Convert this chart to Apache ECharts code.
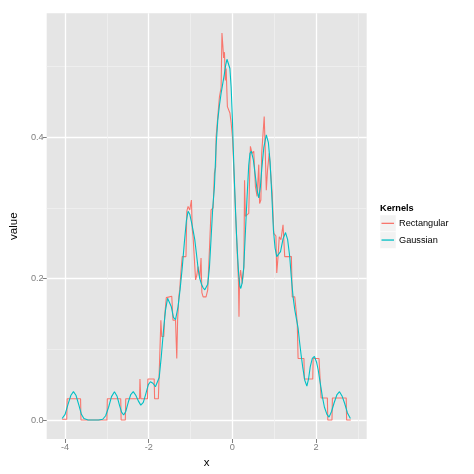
<!DOCTYPE html>
<html><head><meta charset="utf-8">
<script src="https://cdn.jsdelivr.net/npm/echarts@6/dist/echarts.min.js"></script>
<style>html,body{margin:0;padding:0;background:#fff}#c{width:474px;height:474px}</style>
</head><body><div id="c"></div>
<script>
const seriesNames = ['Rectangular', 'Gaussian'];
const xTicks = [-4, -2, 0, 2];
const xMinor = [-3, -1, 1, 3];
const yTicks = [0, 0.2, 0.4];
const yMinor = [0.1, 0.3, 0.5];

const gaussX = [-4.07,-4.00,-3.93,-3.86,-3.80,-3.74,-3.67,-3.61,-3.55,-3.45,-3.20,-3.10,-3.03,-2.96,-2.89,-2.82,-2.76,-2.70,-2.65,-2.60,-2.55,-2.49,-2.43,-2.37,-2.31,-2.25,-2.19,-2.13,-2.07,-2.01,-1.96,-1.90,-1.84,-1.80,-1.75,-1.70,-1.65,-1.60,-1.55,-1.51,-1.46,-1.41,-1.36,-1.30,-1.25,-1.20,-1.15,-1.10,-1.06,-1.02,-0.98,-0.94,-0.90,-0.86,-0.82,-0.78,-0.74,-0.70,-0.66,-0.62,-0.59,-0.55,-0.51,-0.47,-0.43,-0.39,-0.35,-0.31,-0.27,-0.23,-0.195,-0.16,-0.13,-0.10,-0.06,-0.03,0.00,0.02,0.04,0.06,0.08,0.10,0.12,0.15,0.18,0.20,0.23,0.27,0.31,0.35,0.39,0.42,0.45,0.50,0.55,0.59,0.63,0.67,0.70,0.75,0.81,0.86,0.90,0.94,0.98,1.02,1.06,1.10,1.15,1.21,1.27,1.32,1.37,1.41,1.45,1.49,1.53,1.57,1.60,1.64,1.68,1.73,1.78,1.82,1.86,1.91,1.96,2.01,2.05,2.10,2.15,2.20,2.26,2.31,2.37,2.43,2.50,2.56,2.62,2.68,2.75,2.82];
const gaussY = [0.002,0.008,0.022,0.035,0.040,0.035,0.021,0.008,0.002,0.000,0.000,0.001,0.006,0.018,0.033,0.040,0.034,0.021,0.011,0.007,0.012,0.025,0.036,0.040,0.035,0.027,0.021,0.025,0.037,0.050,0.054,0.052,0.047,0.046,0.060,0.090,0.125,0.155,0.172,0.173,0.160,0.145,0.142,0.160,0.185,0.215,0.250,0.282,0.295,0.291,0.280,0.268,0.255,0.235,0.214,0.200,0.192,0.187,0.184,0.186,0.192,0.215,0.257,0.300,0.330,0.387,0.424,0.445,0.462,0.476,0.488,0.502,0.510,0.512,0.497,0.470,0.425,0.385,0.350,0.318,0.288,0.260,0.236,0.205,0.189,0.186,0.193,0.215,0.265,0.315,0.360,0.377,0.380,0.368,0.344,0.325,0.314,0.330,0.354,0.385,0.403,0.392,0.365,0.320,0.269,0.243,0.231,0.229,0.238,0.256,0.265,0.255,0.231,0.200,0.174,0.156,0.143,0.130,0.113,0.093,0.075,0.056,0.048,0.058,0.075,0.087,0.090,0.082,0.071,0.052,0.033,0.018,0.008,0.004,0.012,0.024,0.036,0.040,0.034,0.024,0.010,0.002];

const rectX = [-4.07,-3.96,-3.95,-3.63,-3.62,-3.00,-2.99,-2.67,-2.66,-2.56,-2.55,-2.22,-2.21,-2.19,-2.03,-2.02,-1.87,-1.86,-1.77,-1.71,-1.69,-1.64,-1.62,-1.58,-1.45,-1.42,-1.36,-1.33,-1.31,-1.28,-1.26,-1.23,-1.20,-1.11,-1.09,-1.06,-1.02,-0.98,-0.96,-0.94,-0.88,-0.85,-0.82,-0.78,-0.75,-0.73,-0.70,-0.63,-0.59,-0.55,-0.51,-0.46,-0.43,-0.40,-0.39,-0.31,-0.27,-0.25,-0.23,-0.21,-0.19,-0.17,-0.15,-0.12,-0.09,-0.06,-0.03,0.00,0.04,0.08,0.12,0.145,0.157,0.17,0.195,0.235,0.275,0.29,0.31,0.39,0.43,0.47,0.51,0.55,0.59,0.63,0.65,0.68,0.70,0.76,0.78,0.81,0.84,0.88,0.92,0.95,0.99,1.04,1.06,1.09,1.12,1.16,1.21,1.25,1.41,1.43,1.49,1.53,1.55,1.57,1.71,1.72,1.92,1.93,2.07,2.12,2.27,2.28,2.38,2.39,2.72,2.73,2.83];
const rectY = [0.001,0.001,0.030,0.030,0.000,0.000,0.030,0.030,0.000,0.000,0.030,0.030,0.058,0.030,0.030,0.058,0.058,0.030,0.030,0.141,0.118,0.118,0.146,0.173,0.175,0.141,0.141,0.087,0.141,0.175,0.184,0.210,0.231,0.231,0.295,0.302,0.297,0.311,0.270,0.259,0.198,0.205,0.217,0.200,0.229,0.180,0.174,0.174,0.184,0.240,0.297,0.300,0.349,0.358,0.400,0.457,0.470,0.547,0.530,0.512,0.520,0.480,0.497,0.443,0.443,0.434,0.420,0.400,0.345,0.285,0.230,0.195,0.146,0.198,0.212,0.193,0.217,0.339,0.288,0.292,0.387,0.377,0.380,0.330,0.316,0.361,0.306,0.311,0.377,0.429,0.391,0.325,0.354,0.377,0.375,0.321,0.264,0.260,0.208,0.230,0.259,0.255,0.276,0.231,0.231,0.174,0.174,0.150,0.137,0.087,0.087,0.058,0.058,0.087,0.087,0.031,0.031,0.000,0.000,0.031,0.031,0.000,0.000];

const FONT = 'Liberation Sans';
const gaussData = gaussX.map((x, i) => [x, gaussY[i]]);
const rectData = rectX.map((x, i) => [x, rectY[i]]);

const chart = echarts.init(document.getElementById('c'), null, {renderer: 'canvas'});
chart.setOption({
  animation: false,
  backgroundColor: '#ffffff',
  grid: {left: 40.7, top: 13.3, width: 326, height: 425.7, show: true, backgroundColor: '#e5e5e5', borderWidth: 0, containLabel: false},
  xAxis: [
    {type: 'value', position: 'top', min: -4.44, max: 3.21,
     axisLine: {show: false, onZero: false}, axisLabel: {show: false},
     axisTick: {show: false, customValues: xMinor},
     splitLine: {show: true, lineStyle: {color: '#f0f0f0', width: 0.8}}},
    {type: 'value', position: 'bottom', min: -4.44, max: 3.21,
     axisLine: {show: false, onZero: false},
     axisTick: {show: true, length: 4, lineStyle: {color: '#7f7f7f', width: 1}, customValues: xTicks},
     axisLabel: {customValues: xTicks, color: '#7f7f7f', fontSize: 9.2, margin: 4, fontFamily: FONT, formatter: v => String(v)},
     splitLine: {show: true, lineStyle: {color: '#ffffff', width: 1.3}},
     name: 'x', nameLocation: 'middle', nameGap: 15,
     nameTextStyle: {color: '#000', fontSize: 11.5, fontFamily: FONT}}
  ],
  yAxis: [
    {type: 'value', position: 'right', min: -0.0269, max: 0.575,
     axisLine: {show: false, onZero: false}, axisLabel: {show: false},
     axisTick: {show: false, customValues: yMinor},
     splitLine: {show: true, lineStyle: {color: '#f0f0f0', width: 0.8}}},
    {type: 'value', position: 'left', min: -0.0269, max: 0.575,
     axisLine: {show: false, onZero: false},
     axisTick: {show: true, length: 4, lineStyle: {color: '#7f7f7f', width: 1}, customValues: yTicks},
     axisLabel: {customValues: yTicks, color: '#7f7f7f', fontSize: 9.2, margin: 3, fontFamily: FONT, formatter: v => v.toFixed(1)},
     splitLine: {show: true, lineStyle: {color: '#ffffff', width: 1.3}},
     name: 'value', nameLocation: 'middle', nameGap: 22, nameRotate: 90,
     nameTextStyle: {color: '#000', fontSize: 11.5, fontFamily: FONT}}
  ],
  legend: {
    data: seriesNames, orient: 'vertical', left: 381.5, top: 215, padding: 0,
    icon: 'rect', itemWidth: 12.5, itemHeight: 1.3, itemGap: 0,
    textStyle: {fontSize: 9.2, color: '#000', fontFamily: FONT, lineHeight: 16.7},
    selectedMode: false
  },
  graphic: [
    {type: 'rect', shape: {x: 380, y: 215, width: 16, height: 16.7}, style: {fill: '#f2f2f2', stroke: '#ffffff', lineWidth: 0.5}},
    {type: 'rect', shape: {x: 380, y: 231.7, width: 16, height: 16.7}, style: {fill: '#f2f2f2', stroke: '#ffffff', lineWidth: 0.5}},
    {type: 'text', left: 380, top: 203.5, style: {text: 'Kernels', font: 'bold 9.2px "Liberation Sans"', fill: '#000'}}
  ],
  series: [
    {name: seriesNames[0], type: 'line', xAxisIndex: 1, yAxisIndex: 1, data: rectData, showSymbol: false, symbol: 'none',
     lineStyle: {color: '#F8766D', width: 1.1}, itemStyle: {color: '#F8766D'}},
    {name: seriesNames[1], type: 'line', xAxisIndex: 1, yAxisIndex: 1, data: gaussData, showSymbol: false, symbol: 'none',
     lineStyle: {color: '#00BFC4', width: 1.1}, itemStyle: {color: '#00BFC4'}}
  ]
});
</script></body></html>
